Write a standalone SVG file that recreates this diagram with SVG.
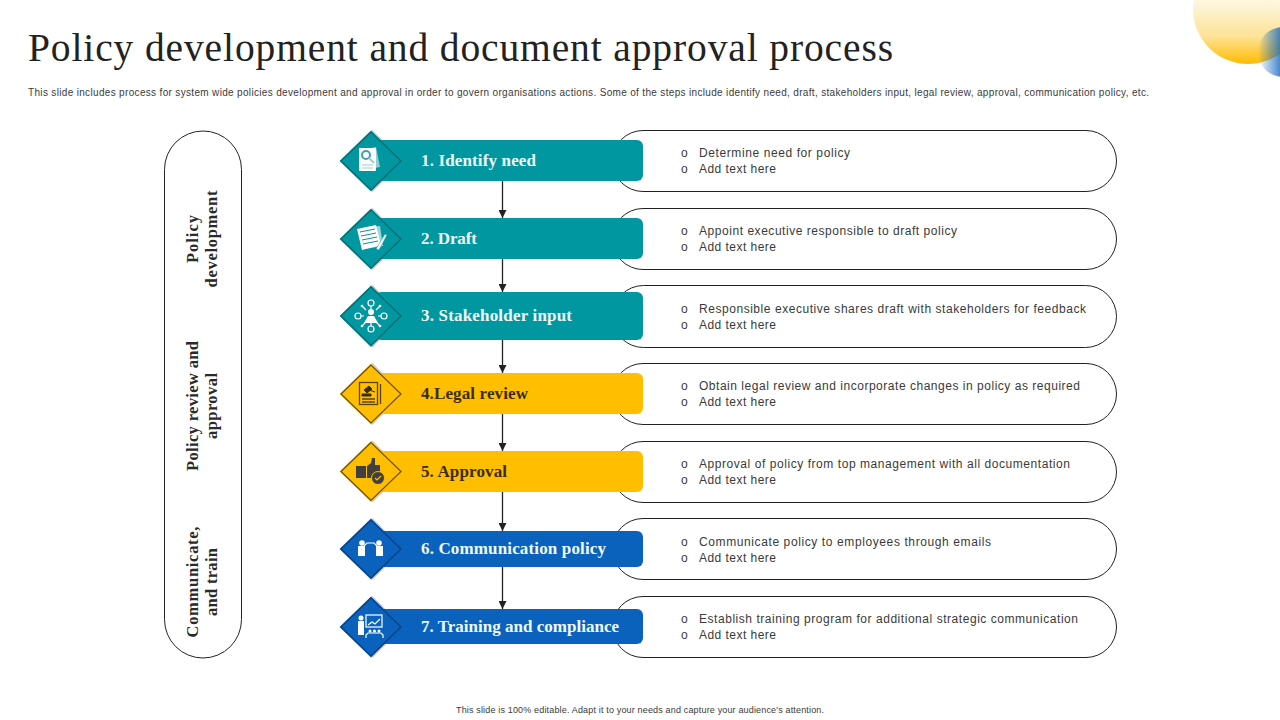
<svg xmlns="http://www.w3.org/2000/svg" width="1280" height="720" viewBox="0 0 1280 720">
<style>
.title{font:400 39.500px "Liberation Serif","DejaVu Serif",serif;fill:#222}
.sub{font:400 10px "Liberation Sans",Arial,sans-serif;fill:#3a3a3a}
.pill{fill:#fff;stroke:#222;stroke-width:1}
.lt{font:700 17px "Liberation Serif","DejaVu Serif",serif}
.w{fill:#eef9f9}.d{fill:#3b2d10}
.side{font:700 16.500px "Liberation Serif","DejaVu Serif",serif;fill:#2a2a2a;text-anchor:middle}
.b{font:400 12px "Liberation Sans",Arial,sans-serif;fill:#3a3a3a}
.teal{fill:#0097a0}.gold{fill:#ffbe00}.blue{fill:#0b62bd}
.edge{fill:none;stroke-width:1.200}
.hl{fill:none;stroke:#c8c8c8;stroke-width:1.200}
.ic{fill:#fff}.icl{fill:none;stroke:#fff;stroke-width:1.200}
.idk{fill:#404040}.idl{fill:none;stroke:#5a430c;stroke-width:1.300}
.cn{stroke:#222;stroke-width:1.300;fill:none;marker-end:url(#arr)}
</style>
<defs>
<marker id="arr" markerWidth="9" markerHeight="8" refX="8" refY="4" orient="auto" markerUnits="userSpaceOnUse"><path d="M0 0L8 4L0 8z" fill="#222"/></marker>
<linearGradient id="gy" x1="0" y1="0" x2="0" y2="1"><stop offset="0" stop-color="#fffef6" stop-opacity=".3"/><stop offset=".45" stop-color="#fdf6da"/><stop offset=".75" stop-color="#fde296"/><stop offset="1" stop-color="#ffbc00"/></linearGradient>
<linearGradient id="gb" x1="0" y1="0" x2="1" y2="0"><stop offset="0" stop-color="#0b62bd" stop-opacity="0"/><stop offset=".5" stop-color="#0b62bd" stop-opacity=".85"/><stop offset="1" stop-color="#0b62bd"/></linearGradient>
<clipPath id="cp"><rect x="1160" y="0" width="120" height="90"/></clipPath>
</defs>
<rect width="1280" height="720" fill="#fff"/>
<g id="corner" clip-path="url(#cp)">
<circle cx="1248" cy="9" r="55" fill="url(#gy)"/>
<circle cx="1283" cy="52" r="25" fill="url(#gb)"/>
</g>
<text class="title" x="28" y="61" textLength="865" lengthAdjust="spacing">Policy development and document approval process</text>
<text class="sub" x="28" y="96" textLength="1121" lengthAdjust="spacing">This slide includes process for system wide policies development and approval in order to govern organisations actions. Some of the steps include identify need, draft, stakeholders input, legal review, approval, communication policy, etc.</text>

<g id="phases">
<rect class="pill" x="164.500" y="131" width="77" height="527" rx="38.500" ry="38.500"/>
<text class="side" transform="translate(198,239) rotate(-90)" textLength="48">Policy</text>
<text class="side" transform="translate(217,239) rotate(-90)" textLength="97">development</text>
<text class="side" transform="translate(198,406) rotate(-90)" textLength="130">Policy review and</text>
<text class="side" transform="translate(217,406) rotate(-90)" textLength="66">approval</text>
<text class="side" transform="translate(198,582) rotate(-90)" textLength="111">Communicate,</text>
<text class="side" transform="translate(217,582) rotate(-90)" textLength="68">and train</text>
</g>

<g id="connectors">
<path class="cn" d="M502.500 181V218"/>
<path class="cn" d="M502.500 259V292"/>
<path class="cn" d="M502.500 340V373"/>
<path class="cn" d="M502.500 414V451"/>
<path class="cn" d="M502.500 492V531"/>
<path class="cn" d="M502.500 567V609"/>
</g>

<g id="n1">
<rect class="pill" x="612.500" y="130.500" width="504" height="61" rx="30.500"/>
<path class="hl" d="M372 130.500L402.500 161L372 191.500"/>
<rect class="teal" x="375" y="140" width="268" height="41" rx="6"/>
<path class="teal" d="M371 130.500L402 161L371 191.500L339.500 161z"/>
<path class="edge" stroke="#0b6a70" d="M371 132L341 161L371 190L401 161z"/>
<path class="ic" d="M361 150l15-3 4 20-15 3z" opacity=".55"/><rect class="ic" x="359" y="148" width="17" height="23"/><circle cx="366" cy="155" r="4" fill="none" stroke="#3f9fb0" stroke-width="2"/><path d="M369 158l5 5" stroke="#a9c9cf" stroke-width="2"/><path d="M362 165h11M362 168h11" stroke="#9bcfd3"/>
<text class="lt w" x="421" y="166" textLength="115">1. Identify need</text>
<text class="b" x="681" y="157">o</text><text class="b" x="699" y="157" textLength="151">Determine need for policy</text>
<text class="b" x="681" y="173">o</text><text class="b" x="699" y="173" textLength="77">Add text here</text>
</g>
<g id="n2">
<rect class="pill" x="612.500" y="208.500" width="504" height="61" rx="30.500"/>
<path class="hl" d="M372 208.500L402.500 239L372 269.500"/>
<rect class="teal" x="375" y="218" width="268" height="41" rx="6"/>
<path class="teal" d="M371 208.500L402 239L371 269.500L339.500 239z"/>
<path class="edge" stroke="#0b6a70" d="M371 210L341 239L371 268L401 239z"/>
<path class="ic" d="M362 228l18-2 3 20-18 3z" opacity=".6"/><path class="ic" d="M357 229l19-4 5 20-19 5z"/><path d="M360 232l15-3M361 236l15-3M362 240l15-3M363 244l15-3" stroke="#0097a0" fill="none"/><path d="M376 249l9-15 2 1-8 15z" class="ic" stroke="#0097a0" stroke-width=".5"/>
<text class="lt w" x="421" y="244" textLength="56">2. Draft</text>
<text class="b" x="681" y="235">o</text><text class="b" x="699" y="235" textLength="258">Appoint executive responsible to draft policy</text>
<text class="b" x="681" y="251">o</text><text class="b" x="699" y="251" textLength="77">Add text here</text>
</g>
<g id="n3">
<rect class="pill" x="612.500" y="285.500" width="504" height="62" rx="31"/>
<path class="hl" d="M372 285.500L402.500 316L372 347"/>
<rect class="teal" x="375" y="292" width="268" height="48" rx="6"/>
<path class="teal" d="M371 285.500L402 316L371 347L339.500 316z"/>
<path class="edge" stroke="#0b6a70" d="M371 287L341 316L371 345.500L401 316z"/>
<circle cx="371" cy="303" r="3" class="icl"/><circle cx="371" cy="329" r="3" class="icl"/><circle cx="358" cy="316" r="3" class="icl"/><circle cx="384" cy="316" r="3" class="icl"/><circle cx="362" cy="306" r="1.300" class="ic"/><circle cx="380" cy="306" r="1.300" class="ic"/><circle cx="362" cy="326" r="1.300" class="ic"/><circle cx="380" cy="326" r="1.300" class="ic"/><path class="icl" d="M371 306v3M371 323v3M361 316h3M378 316h3M362 306l4 4M380 306l-4 4M362 326l4-4M380 326l-4-4"/><path class="ic" d="M364 323l4-7h6l4 7z"/><circle class="ic" cx="371" cy="312" r="3"/>
<text class="lt w" x="421" y="321" textLength="151">3. Stakeholder input</text>
<text class="b" x="681" y="313">o</text><text class="b" x="699" y="313" textLength="387">Responsible executive shares draft with stakeholders for feedback</text>
<text class="b" x="681" y="329">o</text><text class="b" x="699" y="329" textLength="77">Add text here</text>
</g>
<g id="n4">
<rect class="pill" x="612.500" y="363.500" width="504" height="61" rx="30.500"/>
<path class="hl" d="M372 363.500L402.500 394L372 424.500"/>
<rect class="gold" x="375" y="373" width="268" height="41" rx="6"/>
<path class="gold" d="M371 363.500L402 394L371 424.500L339.500 394z"/>
<path class="edge" stroke="#6a4f0a" d="M371 365L341 394L371 423L401 394z"/>
<rect class="idl" x="359.500" y="382.500" width="18" height="22"/><path class="idl" d="M380.500 384v20M362 399h13M362 402h13"/><path d="M362 396h9v-2h-9zM364 390l5-4 3 3-5 4zM369 390l6 2" fill="#3b2d10" stroke="#3b2d10"/>
<text class="lt d" x="421" y="399" textLength="107">4.Legal review</text>
<text class="b" x="681" y="390">o</text><text class="b" x="699" y="390" textLength="381">Obtain legal review and incorporate changes in policy as required</text>
<text class="b" x="681" y="406">o</text><text class="b" x="699" y="406" textLength="77">Add text here</text>
</g>
<g id="n5">
<rect class="pill" x="612.500" y="441.500" width="504" height="61" rx="30.500"/>
<path class="hl" d="M372 441L402.500 471.500L372 502"/>
<rect class="gold" x="375" y="451" width="268" height="41" rx="6"/>
<path class="gold" d="M371 441L402 471.500L371 502L339.500 471.500z"/>
<path class="edge" stroke="#6a4f0a" d="M371 442.500L341 471.500L371 500.500L401 471.500z"/>
<rect class="idk" x="356" y="466" width="10" height="12"/><path class="idk" d="M367 466l4-3 1-5 3 0v7h5v13h-13z"/><circle cx="378" cy="478" r="6.500" fill="#404040" stroke="#ffbe00"/><path d="M375 478l2 2 4-4" stroke="#ffbe00" fill="none" stroke-width="1.200"/>
<text class="lt d" x="421" y="477" textLength="86">5. Approval</text>
<text class="b" x="681" y="468">o</text><text class="b" x="699" y="468" textLength="371">Approval of policy from top management with all documentation</text>
<text class="b" x="681" y="484">o</text><text class="b" x="699" y="484" textLength="77">Add text here</text>
</g>
<g id="n6">
<rect class="pill" x="612.500" y="518.500" width="504" height="61" rx="30.500"/>
<path class="hl" d="M372 518.500L402.500 549L372 579.500"/>
<rect class="blue" x="375" y="531" width="268" height="36" rx="6"/>
<path class="blue" d="M371 518.500L402 549L371 579.500L339.500 549z"/>
<path class="edge" stroke="#0a3f80" d="M371 520L341 549L371 578L401 549z"/>
<circle class="ic" cx="362" cy="543" r="2.800"/><circle class="ic" cx="379" cy="543" r="2.800"/><rect class="ic" x="358" y="546" width="7" height="10"/><rect class="ic" x="376" y="546" width="7" height="10"/><path class="icl" d="M364 546l3-3h7l3 3" stroke-width=".8"/>
<text class="lt w" x="421" y="554" textLength="185">6. Communication policy</text>
<text class="b" x="681" y="546">o</text><text class="b" x="699" y="546" textLength="292">Communicate policy to employees through emails</text>
<text class="b" x="681" y="562">o</text><text class="b" x="699" y="562" textLength="77">Add text here</text>
</g>
<g id="n7">
<rect class="pill" x="612.500" y="596.500" width="504" height="61" rx="30.500"/>
<path class="hl" d="M372 596.500L402.500 627L372 657.500"/>
<rect class="blue" x="375" y="609" width="268" height="35" rx="6"/>
<path class="blue" d="M371 596.500L402 627L371 657.500L339.500 627z"/>
<path class="edge" stroke="#0a3f80" d="M371 598L341 627L371 656L401 627z"/>
<circle class="ic" cx="361" cy="618" r="2.500"/><rect class="ic" x="358" y="621" width="6" height="14"/><rect class="icl" x="366" y="615" width="16" height="12" stroke-width=".8"/><path class="icl" d="M368 625l4-3 3 2 5-5" stroke-width=".8"/><path class="icl" d="M366 638v-3l2-2h13l2 2v3" stroke-width=".8"/><circle class="ic" cx="370" cy="631" r="1.500"/><circle class="ic" cx="374.500" cy="631" r="1.500"/><circle class="ic" cx="379" cy="631" r="1.500"/>
<text class="lt w" x="421" y="632" textLength="198">7. Training and compliance</text>
<text class="b" x="681" y="623">o</text><text class="b" x="699" y="623" textLength="379">Establish training program for additional strategic communication</text>
<text class="b" x="681" y="639">o</text><text class="b" x="699" y="639" textLength="77">Add text here</text>
</g>
<text class="sub" x="456" y="713" style="font-size:9px" textLength="368">This slide is 100% editable. Adapt it to your needs and capture your audience's attention.</text>
</svg>
